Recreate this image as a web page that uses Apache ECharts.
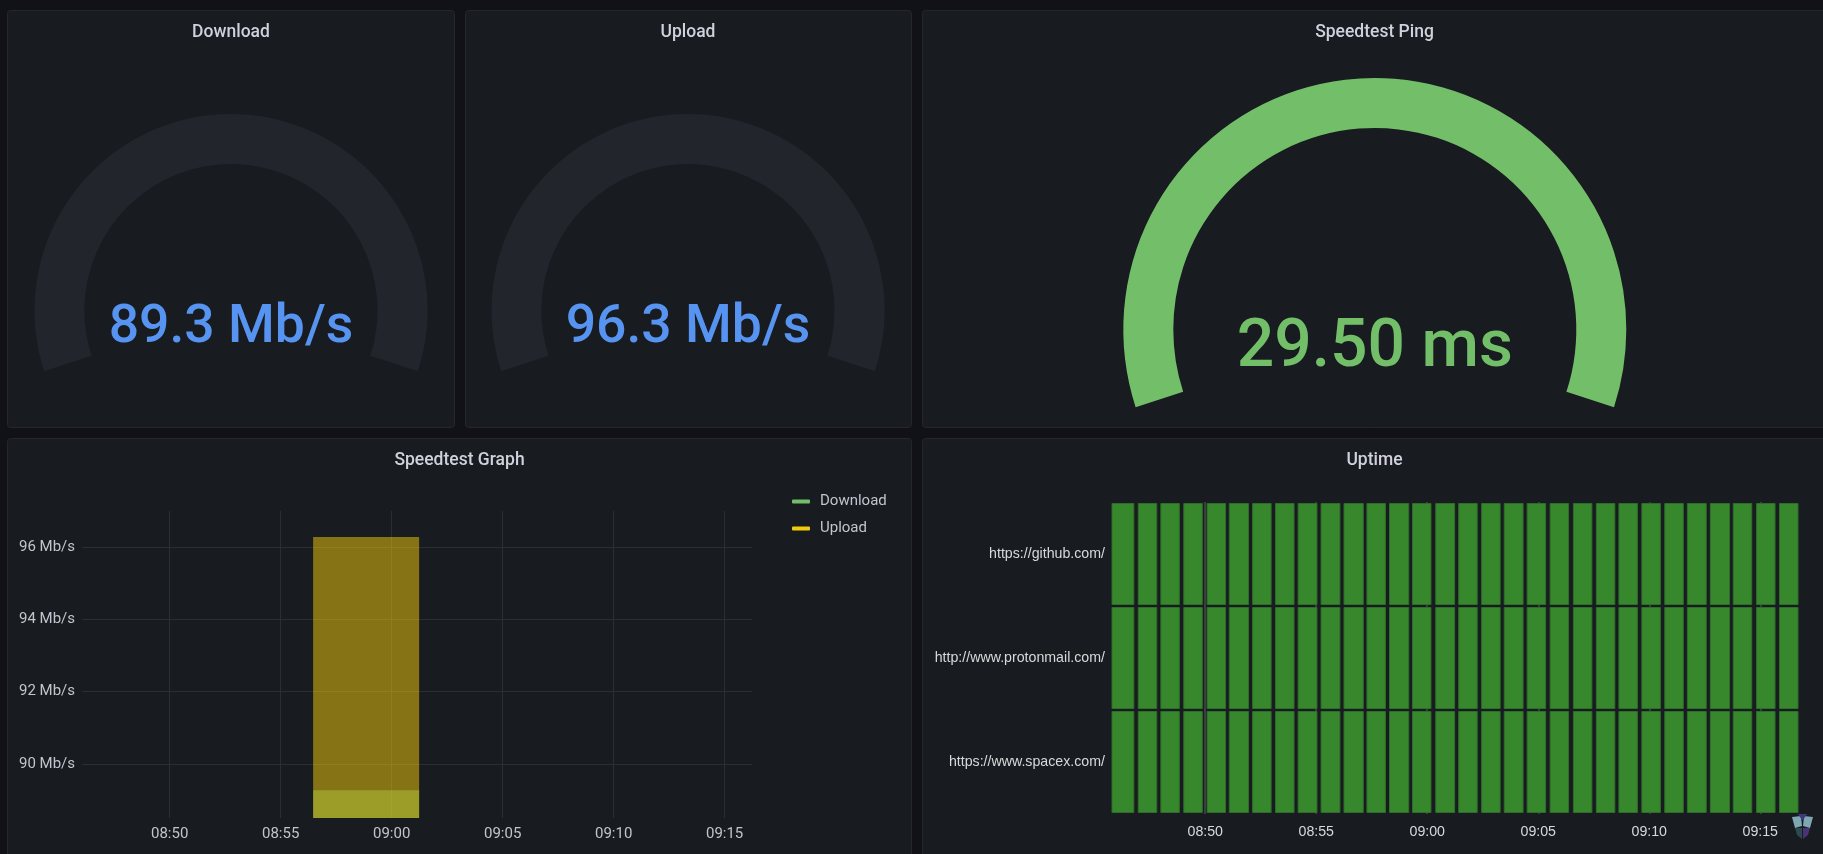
<!DOCTYPE html>
<html>
<head>
<meta charset="utf-8">
<title>Speedtest</title>
<script src="https://cdn.jsdelivr.net/npm/echarts@6/dist/echarts.min.js"></script>
<style>
html,body{margin:0;padding:0;background:#111217;overflow:hidden;}
#main{width:1823px;height:854px;}
</style>
</head>
<body>
<div id="main"></div>
<script>
// gauges
var downloadValue = 89.3;
var uploadValue = 96.3;
var pingValue = 29.50;

// speedtest graph
var seriesNames = ['Download', 'Upload'];
var sampleTime = '08:58:51';
var downloadValues = [89.27];
var uploadValues = [96.28];
var speedTicks = [90, 92, 94, 96];
var timeTicks = ['08:50:00', '08:55:00', '09:00:00', '09:05:00', '09:10:00', '09:15:00'];

// uptime state timeline
var urls = ['https://github.com/', 'http://www.protonmail.com/', 'https://www.spacex.com/'];
var cellStart = ['08:45:48','08:46:59','08:48:00','08:49:02','08:50:05','08:51:05','08:52:08','08:53:10','08:54:11','08:55:13',
    '08:56:15','08:57:17','08:58:18','08:59:20','09:00:23','09:01:25','09:02:27','09:03:28','09:04:30','09:05:32',
    '09:06:35','09:07:37','09:08:38','09:09:40','09:10:42','09:11:43','09:12:45','09:13:47','09:14:50','09:15:52'];
var cellEnd = ['08:46:47','08:47:49','08:48:50','08:49:52','08:50:55','08:51:57','08:52:58','08:54:00','08:55:02','08:56:04',
    '08:57:07','08:58:07','08:59:10','09:00:10','09:01:14','09:02:15','09:03:17','09:04:19','09:05:20','09:06:22',
    '09:07:25','09:08:27','09:09:28','09:10:30','09:11:32','09:12:34','09:13:37','09:14:37','09:15:40','09:16:42'];
var githubUp = [1,1,1,1,1,1,1,1,1,1,1,1,1,1,1,1,1,1,1,1,1,1,1,1,1,1,1,1,1,1];
var protonUp = [1,1,1,1,1,1,1,1,1,1,1,1,1,1,1,1,1,1,1,1,1,1,1,1,1,1,1,1,1,1];
var spacexUp = [1,1,1,1,1,1,1,1,1,1,1,1,1,1,1,1,1,1,1,1,1,1,1,1,1,1,1,1,1,1];

var FONT = 'Roboto';
var ARIAL = '"Liberation Sans"';
var TITLE = '#d0d1dc';
var AXISTEXT = '#c3c4cd';

// seconds since midnight, the x axes are plain value axes over these
function t(s) {
    var p = s.split(':');
    return (+p[0]) * 3600 + (+p[1]) * 60 + (+p[2]);
}
function hhmm(v) {
    var h = Math.floor(v / 3600);
    var m = Math.floor(v / 60) % 60;
    return (h < 10 ? '0' : '') + h + ':' + (m < 10 ? '0' : '') + m;
}

var cells = [];
var rows = [githubUp, protonUp, spacexUp];
for (var r = 0; r < rows.length; r++) {
    for (var i = 0; i < rows[r].length; i++) {
        cells.push([t(cellStart[i]), t(cellEnd[i]), r, rows[r][i]]);
    }
}
var tickTimes = timeTicks.map(t);

function panel(x, y, w, h) {
    return {
        type: 'rect', z: -10, silent: true,
        shape: {x: x + 0.5, y: y + 0.5, width: w - 1, height: h - 1, r: 3},
        style: {fill: '#181b1f', stroke: '#24262c', lineWidth: 1}
    };
}
function panelTitle(text, cx, top) {
    return {
        text: text, left: cx, top: top, textAlign: 'center', padding: 0,
        textStyle: {color: TITLE, fontFamily: FONT, fontWeight: 500, fontSize: 17.5}
    };
}
function gauge(value, cx, cy, radius, arcColor, textColor, fontSize, offsetY, digits, unit) {
    return {
        type: 'gauge',
        center: [cx, cy],
        radius: radius,
        startAngle: 198,
        endAngle: -18,
        min: 0,
        max: 100,
        axisLine: {roundCap: false, lineStyle: {width: 50, color: [[1, arcColor]]}},
        progress: {show: false},
        pointer: {show: false},
        axisTick: {show: false},
        splitLine: {show: false},
        axisLabel: {show: false},
        anchor: {show: false},
        title: {show: false},
        detail: {
            valueAnimation: false,
            offsetCenter: [0, offsetY],
            color: textColor,
            fontFamily: FONT,
            fontWeight: 500,
            fontSize: fontSize,
            formatter: function (v) { return v.toFixed(digits) + ' ' + unit; }
        },
        data: [{value: value}]
    };
}

var myChart = echarts.init(document.getElementById('main'));
var option = {
    animation: false,
    backgroundColor: '#111217',
    title: [
        panelTitle('Download', 231, 24),
        panelTitle('Upload', 688, 24),
        panelTitle('Speedtest Ping', 1374.5, 24),
        panelTitle('Speedtest Graph', 459.5, 451.5),
        panelTitle('Uptime', 1374.5, 451.5)
    ],
    graphic: [
        panel(7, 10, 448, 418),
        panel(465, 10, 447, 418),
        panel(922, 10, 910, 418),
        panel(7, 438, 905, 430),
        panel(922, 438, 910, 430),
        {
            type: 'group', x: 1792, y: 814, silent: true,
            children: [
                {type: 'polygon', shape: {points: [[0,3],[9,2],[10,12],[3,14]]}, style: {fill: '#7fa6b4'}},
                {type: 'polygon', shape: {points: [[21,3],[12,2],[11,12],[18,14]]}, style: {fill: '#7fa6b4'}},
                {type: 'polygon', shape: {points: [[6,0],[15,0],[11,6],[10,6]]}, style: {fill: '#3d3a78'}},
                {type: 'polygon', shape: {points: [[3,14],[10,14],[10,25],[5,21]]}, style: {fill: '#2c4a50'}},
                {type: 'polygon', shape: {points: [[18,14],[11,14],[11,25],[16,21]]}, style: {fill: '#4a3276'}}
            ]
        }
    ],
    legend: {
        orient: 'vertical',
        left: 792,
        top: 494,
        padding: 0,
        itemWidth: 18,
        itemHeight: 4,
        itemGap: 12,
        icon: 'roundRect',
        textStyle: {color: AXISTEXT, fontFamily: FONT, fontSize: 15, padding: [0, 0, 0, 5]},
        data: [
            {name: seriesNames[0], itemStyle: {color: '#73bf69', opacity: 1}},
            {name: seriesNames[1], itemStyle: {color: '#f2cc0c', opacity: 1}}
        ]
    },
    grid: [
        {left: 82, top: 511, width: 670, height: 307},
        {left: 1112, top: 502, width: 686, height: 312}
    ],
    xAxis: [
        {
            type: 'value', gridIndex: 0, scale: true,
            min: t('08:46:03'), max: t('09:16:14'),
            axisLine: {show: false},
            axisTick: {show: false, customValues: tickTimes},
            axisLabel: {customValues: tickTimes, formatter: hhmm, color: AXISTEXT, fontFamily: FONT, fontSize: 15, margin: 9},
            splitLine: {show: true, lineStyle: {color: '#2c2e33', width: 1}}
        },
        {
            type: 'value', gridIndex: 1, scale: true,
            min: t('08:45:48'), max: t('09:16:42'),
            axisLine: {show: false},
            axisTick: {show: false, customValues: tickTimes},
            axisLabel: {customValues: tickTimes, formatter: hhmm, color: '#d8d9da', fontFamily: ARIAL, fontSize: 14.2, margin: 11},
            splitLine: {show: true, lineStyle: {color: '#3c3d40', width: 2}}
        }
    ],
    yAxis: [
        {
            type: 'value', gridIndex: 0, scale: true,
            min: 88.5, max: 97,
            axisLine: {show: false},
            axisTick: {show: false, customValues: speedTicks},
            axisLabel: {customValues: speedTicks, formatter: '{value} Mb/s', color: AXISTEXT, fontFamily: FONT, fontSize: 15, margin: 7, padding: [0, 0, 3, 0]},
            splitLine: {show: true, lineStyle: {color: '#2c2e33', width: 1}}
        },
        {
            type: 'category', gridIndex: 1,
            data: urls, inverse: true,
            axisLine: {show: false},
            axisTick: {show: false},
            axisLabel: {color: '#d8d9da', fontFamily: ARIAL, fontSize: 14.2, margin: 7, padding: [0, 0, 6, 0]},
            splitLine: {show: false}
        }
    ],
    series: [
        gauge(downloadValue, 231, 310.5, 196.5, '#22252b', '#5794f2', 53.5, 18, 1, 'Mb/s'),
        gauge(uploadValue, 688, 310.5, 196.5, '#22252b', '#5794f2', 53.5, 18, 1, 'Mb/s'),
        gauge(pingValue, 1374.8, 329.5, 251.5, '#73bf69', '#73bf69', 66, 19.5, 2, 'ms'),
        {
            name: seriesNames[0], type: 'bar', xAxisIndex: 0, yAxisIndex: 0,
            barWidth: 106, barGap: '-100%',
            itemStyle: {color: '#73bf69', opacity: 0.5},
            data: downloadValues.map(function (v) { return [t(sampleTime), v]; })
        },
        {
            name: seriesNames[1], type: 'bar', xAxisIndex: 0, yAxisIndex: 0,
            barWidth: 106, barGap: '-100%',
            itemStyle: {color: '#f2cc0c', opacity: 0.5},
            data: uploadValues.map(function (v) { return [t(sampleTime), v]; })
        },
        {
            type: 'custom', xAxisIndex: 1, yAxisIndex: 1,
            encode: {x: [0, 1], y: 2},
            renderItem: function (params, api) {
                var a = api.coord([api.value(0), api.value(2)]);
                var b = api.coord([api.value(1), api.value(2)]);
                var h = api.size([0, 1])[1] - 3;
                return {
                    type: 'rect',
                    shape: {x: a[0], y: a[1] - h / 2, width: b[0] - a[0], height: h},
                    style: {fill: '#37872d', stroke: '#2f6e2a', lineWidth: 1}
                };
            },
            data: cells
        }
    ]
};
myChart.setOption(option);
</script>
</body>
</html>
